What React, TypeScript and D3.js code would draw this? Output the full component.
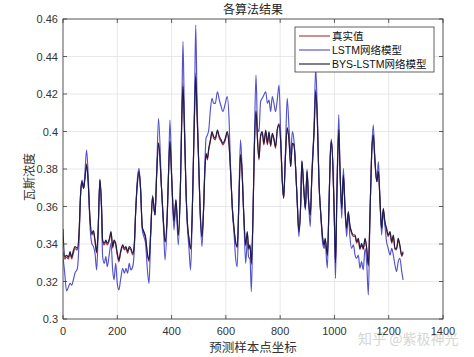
import React from "react";
import * as d3 from "d3";

const sampleIdx = [0,6,13,20,26,32,38,44,53,59,65,70,76,81,87,93,99,106,112,118,124,129,136,142,146,152,158,163,171,177,183,188,194,200,206,212,220,226,232,238,244,250,257,262,268,274,280,286,292,298,304,311,317,323,330,339,345,352,363,370,376,384,389,394,401,409,416,425,433,438,442,447,453,458,464,470,476,481,485,489,494,499,505,512,518,523,527,532,537,543,549,555,561,569,576,583,589,598,605,612,618,624,630,636,642,648,654,659,666,673,679,684,689,694,700,705,711,717,722,728,734,740,747,753,759,765,771,777,783,790,796,802,808,813,819,826,833,839,845,851,857,863,869,876,880,887,893,899,905,911,917,925,931,937,943,950,957,962,966,974,980,985,989,995,1000,1004,1009,1016,1020,1027,1033,1039,1045,1051,1057,1063,1070,1076,1082,1088,1094,1100,1106,1113,1119,1125,1131,1137,1143,1149,1156,1162,1168,1174,1180,1186,1192,1198,1205,1211,1217,1223,1229,1235,1241,1248,1253];

const trueVals = [0.336,0.332,0.333,0.332,0.335,0.332,0.335,0.3376,0.3368,0.3452,0.3672,0.3735,0.3697,0.3755,0.3828,0.3724,0.3546,0.3448,0.3462,0.3412,0.3352,0.3459,0.3745,0.3599,0.3412,0.3395,0.3413,0.3395,0.342,0.3458,0.3378,0.3412,0.3395,0.3342,0.3305,0.335,0.3386,0.3368,0.3377,0.335,0.3377,0.3368,0.3342,0.3378,0.3581,0.3724,0.379,0.3688,0.3492,0.346,0.3432,0.3342,0.3306,0.3459,0.3652,0.3555,0.3768,0.394,0.3697,0.3519,0.341,0.3555,0.3786,0.395,0.3732,0.3519,0.3635,0.3445,0.3732,0.409,0.4255,0.4035,0.3697,0.3519,0.343,0.3372,0.3555,0.3875,0.4124,0.4312,0.4088,0.3875,0.359,0.3436,0.359,0.3804,0.3875,0.3848,0.3902,0.3946,0.399,0.3964,0.3955,0.4,0.3964,0.3946,0.3928,0.3955,0.399,0.392,0.3768,0.359,0.3484,0.3408,0.338,0.3626,0.388,0.3804,0.3555,0.339,0.346,0.337,0.3388,0.329,0.3555,0.3911,0.4112,0.3946,0.3848,0.3972,0.399,0.3928,0.4,0.3928,0.399,0.392,0.3982,0.3955,0.391,0.401,0.4042,0.3946,0.3732,0.3644,0.3848,0.4022,0.3946,0.3812,0.3937,0.3928,0.3804,0.3626,0.3462,0.3626,0.3839,0.3697,0.359,0.3786,0.3626,0.3552,0.3768,0.3999,0.4225,0.4062,0.3732,0.3555,0.3424,0.3388,0.3424,0.3334,0.3608,0.3875,0.395,0.3786,0.3519,0.3295,0.366,0.4015,0.3821,0.359,0.3768,0.359,0.3476,0.3565,0.3492,0.3458,0.344,0.344,0.3404,0.3422,0.337,0.3396,0.337,0.3422,0.337,0.3282,0.3555,0.3875,0.3985,0.3848,0.3732,0.3786,0.3626,0.3476,0.3582,0.351,0.3476,0.344,0.3458,0.3404,0.344,0.337,0.337,0.3422,0.3388,0.3334,0.3352];

const lstmVals = [0.333,0.325,0.315,0.317,0.319,0.318,0.3208,0.3244,0.327,0.3405,0.3672,0.3741,0.3697,0.3787,0.3901,0.376,0.351,0.3404,0.3386,0.335,0.3261,0.343,0.3744,0.358,0.3333,0.3297,0.3333,0.3279,0.335,0.3405,0.3261,0.3208,0.3297,0.319,0.3155,0.3208,0.327,0.3244,0.327,0.3244,0.3297,0.3262,0.328,0.335,0.3581,0.3745,0.3804,0.369,0.3475,0.344,0.3404,0.3261,0.319,0.344,0.366,0.3555,0.378,0.407,0.3697,0.35,0.3315,0.354,0.379,0.4061,0.374,0.3475,0.362,0.3395,0.374,0.415,0.4479,0.41,0.369,0.35,0.338,0.3261,0.354,0.389,0.42,0.4568,0.415,0.388,0.358,0.3386,0.359,0.384,0.3964,0.3981,0.4008,0.4115,0.4177,0.415,0.415,0.4212,0.4168,0.4132,0.4106,0.415,0.4186,0.406,0.378,0.358,0.346,0.3324,0.3279,0.364,0.3955,0.383,0.3555,0.3297,0.3413,0.333,0.332,0.3146,0.3555,0.394,0.4301,0.4017,0.3999,0.4159,0.4177,0.4195,0.4212,0.415,0.4168,0.4106,0.4186,0.415,0.4106,0.4177,0.4248,0.399,0.374,0.365,0.387,0.4177,0.401,0.3875,0.3999,0.395,0.381,0.362,0.3439,0.3626,0.3845,0.3697,0.358,0.38,0.362,0.3493,0.378,0.403,0.434,0.41,0.374,0.355,0.34,0.3377,0.34,0.3271,0.361,0.389,0.396,0.379,0.35,0.3217,0.366,0.409,0.383,0.3537,0.3804,0.359,0.3439,0.356,0.3439,0.3377,0.3395,0.3341,0.3324,0.3341,0.3271,0.3306,0.3262,0.3377,0.3297,0.3128,0.3555,0.388,0.4035,0.386,0.3732,0.3839,0.3626,0.3448,0.3573,0.35,0.3412,0.3377,0.3341,0.3377,0.3341,0.3288,0.3253,0.3306,0.3324,0.3253,0.3208];

const bysVals = [0.348,0.333,0.334,0.333,0.336,0.333,0.3364,0.3386,0.3377,0.3459,0.3672,0.3732,0.3697,0.3751,0.3821,0.3724,0.3546,0.3457,0.3471,0.3421,0.3359,0.3459,0.3741,0.3599,0.3421,0.3404,0.3421,0.3404,0.3429,0.3466,0.3386,0.3421,0.3404,0.335,0.3315,0.3359,0.3395,0.3377,0.3386,0.3359,0.3386,0.3377,0.335,0.3386,0.3581,0.3724,0.3786,0.3688,0.3492,0.3466,0.3439,0.335,0.3315,0.3459,0.3652,0.3555,0.3768,0.3937,0.3697,0.3519,0.3412,0.3555,0.3786,0.3946,0.3732,0.3519,0.3635,0.3448,0.3732,0.4088,0.4239,0.4035,0.3697,0.3519,0.343,0.3377,0.3555,0.3875,0.4124,0.4292,0.4088,0.3875,0.359,0.3439,0.359,0.3804,0.3884,0.3857,0.3911,0.3955,0.3999,0.3973,0.3964,0.4008,0.3973,0.3955,0.3937,0.3964,0.3999,0.3928,0.3768,0.359,0.3484,0.3412,0.3386,0.3626,0.3875,0.3804,0.3555,0.3395,0.3466,0.3377,0.3395,0.3297,0.3555,0.3911,0.4106,0.3946,0.3857,0.3981,0.3999,0.3937,0.4008,0.3937,0.3999,0.3928,0.399,0.3964,0.3919,0.4017,0.4035,0.3946,0.3732,0.3644,0.3848,0.4017,0.3946,0.3812,0.3937,0.3928,0.3804,0.3626,0.3466,0.3626,0.3839,0.3697,0.359,0.3786,0.3626,0.3555,0.3768,0.3999,0.4212,0.4062,0.3732,0.3555,0.343,0.3395,0.343,0.3341,0.3608,0.3875,0.3946,0.3786,0.3519,0.33,0.366,0.401,0.3821,0.359,0.3768,0.359,0.3484,0.3573,0.3501,0.3466,0.3448,0.3448,0.3412,0.343,0.3377,0.3404,0.3377,0.343,0.3377,0.3288,0.3555,0.3875,0.3981,0.3848,0.3732,0.3786,0.3626,0.3484,0.359,0.3519,0.3484,0.3448,0.3466,0.3412,0.3448,0.3377,0.3377,0.343,0.3395,0.3341,0.3359];

const xTicks = [0, 200, 400, 600, 800, 1000, 1200, 1400];
const yTicks = [0.3, 0.32, 0.34, 0.36, 0.38, 0.4, 0.42, 0.44, 0.46];
const seriesNames = ["真实值", "LSTM网络模型", "BYS-LSTM网络模型"];
const seriesColors = ["#b03838", "#5252cc", "#1c1c4a"];

const W = 474, H = 357;
const L = 63, R = 443, T = 19, B = 319;

export default function App() {
  const x = d3.scaleLinear().domain([0, 1400]).range([L, R]);
  const y = d3.scaleLinear().domain([0.3, 0.46]).range([B, T]);
  const mk = (vals: number[]) =>
    d3.line<number>().x((_, i) => x(sampleIdx[i])).y((d) => y(d)).curve(d3.curveMonotoneX)(vals) || "";
  const series = [trueVals, lstmVals, bysVals];
  const tickFont = "'Liberation Sans', Arial, sans-serif";
  const cjk = "'Noto Sans CJK SC', sans-serif";
  const axisColor = "#3a3a3a";
  const labelColor = "#333";
  const fmt = (v: number) => String(Number(v.toFixed(2)));
  const legX = 295, legY = 27, legW = 139, legH = 45;
  return (
    <svg width={W} height={H} style={{ position: "absolute", left: 0, top: 0, background: "#fff" }}>
      <rect x={0} y={0} width={W} height={H} fill="#fff" />
      {xTicks.map((t) => (
        <line key={"gx" + t} x1={x(t)} x2={x(t)} y1={T} y2={B} stroke="#e2e2e2" strokeWidth={0.8} />
      ))}
      {yTicks.map((t) => (
        <line key={"gy" + t} x1={L} x2={R} y1={y(t)} y2={y(t)} stroke="#e2e2e2" strokeWidth={0.8} />
      ))}
      <defs>
        <clipPath id="plotclip">
          <rect x={L} y={T} width={R - L} height={B - T} />
        </clipPath>
      </defs>
      <g clipPath="url(#plotclip)">
        {series.map((s, i) => (
          <path key={i} d={mk(s)} fill="none" stroke={seriesColors[i]} strokeWidth={1.15} strokeLinejoin="round" />
        ))}
      </g>
      <rect x={L} y={T} width={R - L} height={B - T} fill="none" stroke={axisColor} strokeWidth={0.8} />
      {/* watermark (drawn beneath tick labels) */}
      <text x={358} y={344} fontFamily={cjk} fontSize={14} fill="#d0d0d0" opacity={0.85}>
        知乎 @紫极神光
      </text>
      {xTicks.map((t) => (
        <g key={"tx" + t}>
          <line x1={x(t)} x2={x(t)} y1={B} y2={B - 4} stroke={axisColor} strokeWidth={0.8} />
          <line x1={x(t)} x2={x(t)} y1={T} y2={T + 4} stroke={axisColor} strokeWidth={0.8} />
          <text x={x(t)} y={335} textAnchor="middle" fontFamily={tickFont} fontSize={11} fill={labelColor}>
            {t}
          </text>
        </g>
      ))}
      {yTicks.map((t) => (
        <g key={"ty" + t}>
          <line x1={L} x2={L + 4} y1={y(t)} y2={y(t)} stroke={axisColor} strokeWidth={0.8} />
          <line x1={R} x2={R - 4} y1={y(t)} y2={y(t)} stroke={axisColor} strokeWidth={0.8} />
          <text x={58} y={y(t) + 4} textAnchor="end" fontFamily={tickFont} fontSize={11} fill={labelColor}>
            {fmt(t)}
          </text>
        </g>
      ))}
      <text x={(L + R) / 2} y={14} textAnchor="middle" fontFamily={cjk} fontSize={12} fill="#222">
        各算法结果
      </text>
      <text x={(L + R) / 2} y={352} textAnchor="middle" fontFamily={cjk} fontSize={12.5} fill="#333">
        预测样本点坐标
      </text>
      <text
        transform={`translate(34,${(T + B) / 2 + 8}) rotate(-90)`}
        textAnchor="middle"
        fontFamily={cjk}
        fontSize={12}
        fill="#333"
      >
        瓦斯浓度
      </text>
      <rect x={legX} y={legY} width={legW} height={legH} fill="#fff" stroke={axisColor} strokeWidth={0.8} />
      {seriesNames.map((n, i) => (
        <g key={n}>
          <line x1={legX + 4} x2={legX + 35} y1={legY + 9 + i * 14} y2={legY + 9 + i * 14} stroke={seriesColors[i]} strokeWidth={1.15} />
          <text x={legX + 37} y={legY + 13 + i * 14} fontFamily={`'Liberation Sans', Arial, 'Noto Sans CJK SC', sans-serif`} fontSize={10.5} fill="#111">
            {n}
          </text>
        </g>
      ))}
    </svg>
  );
}
